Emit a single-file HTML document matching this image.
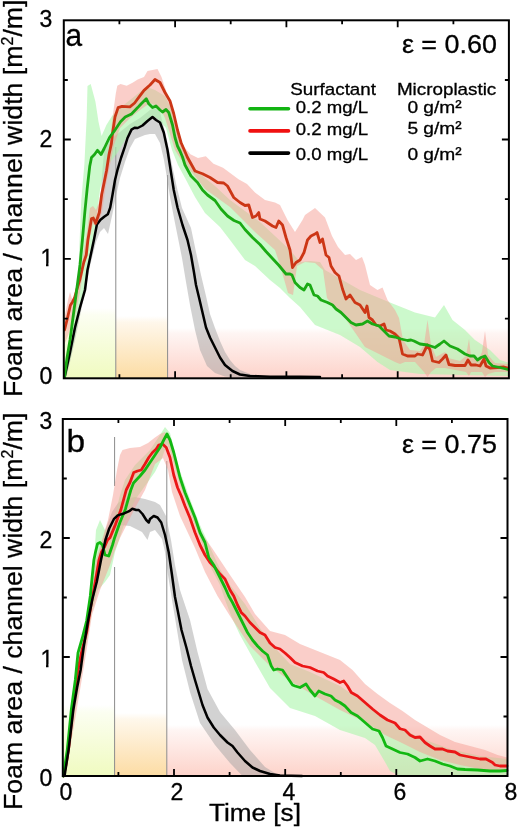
<!DOCTYPE html>
<html><head><meta charset="utf-8"><style>html,body{margin:0;padding:0;background:#fff;width:520px;height:829px;overflow:hidden}</style></head>
<body>
<svg width="520" height="829" viewBox="0 0 520 829" style="display:block;filter:blur(0.35px);font-family:'Liberation Sans',Arial,sans-serif">
<defs><linearGradient id="gyA" x1="0" y1="308" x2="0" y2="378.3" gradientUnits="userSpaceOnUse"><stop offset="0" stop-color="#f0fbc0" stop-opacity="0"/><stop offset="0.1" stop-color="#f0fbc0" stop-opacity="0.22"/><stop offset="1" stop-color="#f0fbc0" stop-opacity="1"/></linearGradient><linearGradient id="goA" x1="0" y1="316" x2="0" y2="378.3" gradientUnits="userSpaceOnUse"><stop offset="0" stop-color="#fcdca4" stop-opacity="0"/><stop offset="0.1" stop-color="#fcdca4" stop-opacity="0.22"/><stop offset="1" stop-color="#fcdca4" stop-opacity="1"/></linearGradient><linearGradient id="gpA" x1="0" y1="328" x2="0" y2="378.3" gradientUnits="userSpaceOnUse"><stop offset="0" stop-color="#fdd3ca" stop-opacity="0"/><stop offset="0.1" stop-color="#fdd3ca" stop-opacity="0.22"/><stop offset="1" stop-color="#fdd3ca" stop-opacity="1"/></linearGradient><linearGradient id="gyB" x1="0" y1="705" x2="0" y2="776" gradientUnits="userSpaceOnUse"><stop offset="0" stop-color="#f0fbc0" stop-opacity="0"/><stop offset="0.1" stop-color="#f0fbc0" stop-opacity="0.22"/><stop offset="1" stop-color="#f0fbc0" stop-opacity="1"/></linearGradient><linearGradient id="goB" x1="0" y1="713" x2="0" y2="776" gradientUnits="userSpaceOnUse"><stop offset="0" stop-color="#fcdca4" stop-opacity="0"/><stop offset="0.1" stop-color="#fcdca4" stop-opacity="0.22"/><stop offset="1" stop-color="#fcdca4" stop-opacity="1"/></linearGradient><linearGradient id="gpB" x1="0" y1="725" x2="0" y2="776" gradientUnits="userSpaceOnUse"><stop offset="0" stop-color="#fdd3ca" stop-opacity="0"/><stop offset="0.1" stop-color="#fdd3ca" stop-opacity="0.22"/><stop offset="1" stop-color="#fdd3ca" stop-opacity="1"/></linearGradient></defs>
<rect width="520" height="829" fill="#fff"/>
<!-- panel a -->
<rect x="63.8" y="308" width="52.0" height="70.30000000000001" fill="url(#gyA)"/><rect x="115.8" y="316" width="51.8" height="62.30000000000001" fill="url(#goA)"/><rect x="167.6" y="328" width="341.29999999999995" height="50.30000000000001" fill="url(#gpA)"/>
<path d="M115.8,147V378M167.6,175V378" stroke="#8c8c8c" stroke-width="1"/>
<polygon points="64.5,377 75,322 85,282 92,245 97,218 100,205 102,175 104,152 110,140 120,132 130,124 140,118 150,110 155,108 160,112 162,120 167,140 172,165 177,188 182,208 191,228 196,252 201,275 206,296 210,314 215,328 220,341 225,352 230,360 235,366 240,370 250,374 260,376 320,377 320,378 240,378 225,376.5 215,373 207,366 200,350 195,330 190,305 186,282 182,258 178,238 174,218 170,197 167,178 164,160 160,143 155,134 150,134 145,135 140,137 135,139 130,148 125,162 120,178 116,196 112,216 108,234 104,228 100,232 96,242 90,266 85,292 80,316 75,340 70,362 66,378" fill="#a0a0a0" fill-opacity="0.47" />
<polygon points="64.5,377 72,330 78,280 81.3,200 84.4,164 86.7,117 87.5,86 90.7,84 95.4,101.4 98.5,121.8 101.6,135.9 106.4,125 112,116 120,108 130,100 140,92 147,87 155,90 165,96 172,110 178,130 185,150 195,168 205,178 215,186 230,200 245,211 260,222 275,236 290,250 300,262 310,261 320,262 325,270 360,290 390,302.5 415,312.5 435,317.5 444,305 452.5,320 465,330 475,340 490,350 500,360 508,362.5 508,376 420,374 390,370 377.5,362 360,347 340,335 315,325 300,307 290,298 280,288 270,280 255,266 245,260 230,240 220,227 205,213 195,197 185,178 178,165 172,150 166,128 160,121 155,117 150,119 145,122 140,126 132,130 125,140 118,152 112,160 104.8,168 100,190 97,215 93,240 89,262 84,290 78,320 72,350 66,377.5" fill="#aaf5aa" fill-opacity="0.6" />
<polygon points="64.5,318 68,300 70,292 73,302 76,296 80,273 84,250 87,232 90,208 93,206 96,210 100,200 104,178 108,160 111,132.7 112.6,117 115.8,93.5 117.3,85.7 120.5,84 126.7,85.7 133,82.5 137.7,79.4 144,77 147.5,71 157.5,69 161.5,77 165.4,88.8 169.2,98.5 172.1,110 175,123.5 178.8,137 183.7,146.5 190.4,154.2 198,158 205.8,156.2 213.5,163.8 223,167.7 230.8,173.5 238.5,179.2 247,184 255,192.5 265,200 275,202.5 280,205 287.5,220 295,232 302.5,220 305,215 315,208 325,217.5 332,236 338,247 345,255 350,254 356,260 362,257 365,265 370,285 377.5,290 382.5,287.5 387.5,300 395,310 399,318 403,340 410,350 420,351 424,345 427.5,320 431,345 436,357 445,352 448,358 460,361 466,356 469,339 471,356 478,361 482,352 485,331 488,355 495,363 508,364 508,372 495,372 488,374 485,377 482,372 471,372 469,376 466,372 445,368 436,368 431,372 427.5,377 424,372 415,362 405,362 400,364 395,362 385,357 365,347 345,318 335,308 327,298 323,270 315,263 305,262 297,266 293,295 288,293 280,265 275,250 255,232 230,207 205,189 190,170 180,158 175,150 170,134 165,118 160,108 150,103 140,110 130,118 120,128 114,145 110,165 106,185 102,212 97,227 93,224 88,245 84,266 80,292 75,316 72,322 68,336 64.5,344" fill="#f59d93" fill-opacity="0.5" />
<polyline points="64.5,377.5 70,352.5 75,327.5 80,307.5 85,290 87.5,270 91.25,252.5 93.9,240 96.9,224.5 100.5,219.7 104.2,216.7 107.8,214.3 110.2,207.6 112.6,194.3 115,180 117.4,170.2 121,158 124.7,147.2 127.5,138 131.5,129.6 134.6,127.7 137.7,128 142.5,125.5 147.5,121 152.5,117 156,120 160,122.5 163.75,132.5 167.5,150 171,172.5 173.75,190 177.5,207.5 182.5,225 187.5,240 191,255 194,272.5 196,285 199,297.5 202.5,312.5 206,327.5 210,337.5 215,347.5 220,357.5 225,365 232.5,371 240,374.5 250,376 270,376.8 300,376.8 320,377" fill="none" stroke="#000" stroke-width="2.5" stroke-linejoin="round" stroke-linecap="round"/>
<polyline points="64.5,330 67.5,318 70.4,305.3 72.5,302 74.5,298 77,289 80,279 83.75,262.5 86.25,255 87.9,240 91.5,218.5 93.3,218 95.7,223.3 99.3,212.5 101.7,194.3 104.2,182.3 106.6,170.2 109,154.5 111.4,143.6 112.6,132.7 115,117 118.1,107.6 122,106.4 129.9,106.9 134.6,103 139.3,96.7 144,90.4 150,85 155,79.5 160,82.5 165,92.5 170,101 173.75,113.75 177.5,130 181,142.5 187.5,157.5 195,171 202.5,173.75 210,177.5 217.5,182.5 223.75,183 227.5,186 233.75,197.5 240,202.5 245,205.5 248.75,205 252.5,217.5 256,216 258.75,212.5 260,219 265,221 272.5,226 276,227.5 278.75,221 282.5,225 286,237.5 290,250 292.5,267.5 296,262.5 300,260 304,252.5 307.5,240 311,236 315,234 317,232.5 320,242.5 322.5,239 326,255 329,257.5 331,266 335,272.5 339,276 342.5,289 346,299 350,295 355,302.5 360,305 365,312.5 367,306 369,317.5 372.5,320 376,325 380,326 384,324 386,330 390,331 395,334 399,338 402.5,354 407.5,356 415,356 417.5,354 422.5,355 425,350 427.5,345 430,350 432.5,361 439,362.5 442.5,359 446,355 449,364.5 455,365.5 465,365.5 468,360 471,365 476,365 480,366 484,359 486,366 490,368 497.5,367.5 504,367 508,368" fill="none" stroke="#cc3616" stroke-width="2.8" stroke-linejoin="round" stroke-linecap="round"/>
<polyline points="64.5,377 67,358 70,340 75,302.5 80,265 82.4,240 84.8,212.5 87.2,188.3 89.7,166.6 91.5,157.5 94.5,154.5 97.5,150.3 101.1,154.5 104.2,148.5 109.5,137.5 114.2,131.2 120.5,121.8 125.2,117 131.5,113.9 137.7,107.6 141,104 144,101 146.25,98.75 148.75,103.75 152.5,107.5 156,106 160,110 162.5,112 166,109.5 168.75,112.5 172.5,125 175,137.5 177.5,146 180,151 182.5,157 185,165 191,176 197.5,182.5 202.5,190 207.5,195 215,200.5 221,209 227.5,216 234,220.5 240,223 245,229.5 252.5,237.5 260,244.5 266,251.5 272.5,258.5 279,265.5 286,274 290,274 292,275 295,282.5 300,287.5 304,290 307.5,284 310,285 314,295 317.5,296 321,300 327.5,302.5 332.5,305 336,309 341,312.5 346,317.5 351,322.5 356,325 362.5,324 367.5,321 372.5,324 379,326 384,331 389,336 395,337 401,339 407.5,340.5 411,340 414,341 420,344 427.5,345 435,347.5 440,344 444,341 450,346 457.5,349 465,354 470,356 474,356 477.5,360 481,357.5 485,356 489,362.5 492.5,366 500,367.5 508,369.5" fill="none" stroke="#1aaa14" stroke-width="2.8" stroke-linejoin="round" stroke-linecap="round"/>
<rect x="63.8" y="20.3" width="445.09999999999997" height="358.0" fill="none" stroke="#000" stroke-width="2"/>
<path d="M63.8,139.5h7M508.9,139.5h-7M63.8,258.9h7M508.9,258.9h-7M63.8,80h4M508.9,80h-4M63.8,199.2h4M508.9,199.2h-4M63.8,318.6h4M508.9,318.6h-4M175.1,378.3v-7M175.1,20.3v7M286.4,378.3v-7M286.4,20.3v7M397.7,378.3v-7M397.7,20.3v7M119.4,378.3v-4M119.4,20.3v4M230.7,378.3v-4M230.7,20.3v4M342.1,378.3v-4M342.1,20.3v4M453.4,378.3v-4M453.4,20.3v4" stroke="#000" stroke-width="1.8" fill="none"/>
<!-- panel b -->
<rect x="62.8" y="705" width="51.8" height="71" fill="url(#gyB)"/><rect x="114.6" y="713" width="52.20000000000002" height="63" fill="url(#goB)"/><rect x="166.8" y="725" width="340.7" height="51" fill="url(#gpB)"/>
<path d="M114.6,437V486M114.6,567V776M166.8,461V776" stroke="#8c8c8c" stroke-width="1"/>
<polygon points="63.5,776 72,712 80,665 88,620 94,580 100,550 106,528 112,512 118,503 125,499 135,497 145,499 155,502 160,505 166,516 171,540 175,565 180,590 190,620 197.5,652 207.5,689 220,712 235,730 250,750 265,767 278,775 300,776.5 300,777 242.5,776 230,763 215,745 200,723 190,692 182,660 177,630 172,600 168,575 165,552 162,539 155,530 150,532 147.5,540 142,532 130,526 120,525 112,534 105,548 98,572 90,610 82,660 72,725 66,770 63.5,776" fill="#a0a0a0" fill-opacity="0.47" />
<polygon points="63.5,776 70,715 75,675 82,640 87,615 91,585 94,560 96,530 100,520 105,530 110,530 115,515 120,495 125,480 135,465 150,450 160,435 165,427 170,433 175,452 180,471 190,499 200,525 210,547 220,569 230,585 245,604 260,628 275,648 290,664 310,672 340,686 365,703 390,722 420,738 450,749 480,756 507,759 507,776 400,776 390,771 385,762 375,745 365,738 340,730 315,716 290,708 270,688 255,662 240,635 232,618 225,600 220,585 212,570 205,552 200,538 190,512 180,485 175,467 170,450 167,444 162,458 155,472 145,486 135,500 125,522 115,552 110,575 105,582 98,590 92,612 85,652 75,712 68,760 63.5,776" fill="#aaf5aa" fill-opacity="0.6" />
<polygon points="63.5,776 70,730 78,682 86,630 92,585 96,560 102,540 108,520 113,495 117,470 120,455 122.5,450 130,448 140,447 148,443 155,437.5 160,434 165,432 170,442 173,453 177,468 182,484 190,505 195,518 200,530 205,538 212,548 220,560 230,575 245,597 255,614 270,631 285,635 300,644 315,650 340,660 352.5,670 365,684 377.5,694 390,703 402.5,711 415,720 427.5,727.5 440,735 455,742 470,746 485,750 497.5,755 507,757.5 507,772 485,770 460,765 440,760 420,752 400,742 385,735 365,722 340,710 315,696 290,681 270,666 250,646 230,616 217.5,596 205,572 195,548 180,516 172,492 168,470 163,458 155,464 145,490 135,508 128,522 120,538 115,550 110,565 100,590 92,615 85,660 75,720 68,760 63.5,776" fill="#f59d93" fill-opacity="0.5" />
<polyline points="63.5,776 66,765 68.5,749.6 72.5,712 75,690 77.9,670 82,650 86.6,632.5 91,605 95.3,581.7 99,560 101.5,552 104.5,547 107.5,540 110,537.7 115.4,524.6 120.8,510 126.2,490 130,482.5 133.75,472.5 137.5,471 141.25,470 145,464 148.75,457.5 152.5,452.5 156.25,449 158.75,445 162.5,444 166.25,447.5 170,457.5 173.75,475 177.5,487.5 181.25,496 185,506 190,518 195,532.5 200,545 205,555 210,562.5 215,567.5 220,574 225,579 230,590 233.75,596 237.5,605 241.25,612.5 245,616 250,622.5 255,627.5 260,632.5 265,635 270,643 275,647.5 280,649 285,653 290,657.5 295,662.5 302.5,666 310,667.5 317.5,671 323.75,672.5 327.5,676 333.75,679 340,682.5 343.75,681 347.5,686 351.25,692.5 357.5,696 365,702.5 372.5,709 380,715 387.5,720 395,723 400,728.75 405,730 410,735 415,737.5 420,737 425,742.5 430,746 435,749 442.5,749 447.5,751 455,752 460,755 465,756 472.5,757.5 480,759 486,759 492.5,762.5 495,765 500,766 507,766" fill="none" stroke="#eb1616" stroke-width="2.8" stroke-linejoin="round" stroke-linecap="round"/>
<polyline points="63.3,776 67.3,749.6 71.3,709.8 75.3,680 78,652.8 82.3,638 86.6,621 90.3,596 92.4,574.5 93.9,560 95.5,552 97.5,543.75 100,542.5 102.5,545 105,555 108.75,556 112.5,545 114.6,537.7 120,522.3 125.4,509.2 130.8,490 133.5,483 136.25,480 140,476 145,470 150,462.5 155,455 160,447.5 163.75,440 167,434 170,440 173.75,452.5 177.5,467.5 180,477.5 185,492.5 190,505 195,517.5 200,532.5 205,542.5 208.75,557.5 213.75,565 217.5,572.5 221.25,580 225,587.5 228.75,596 232.5,602.5 236.25,610 240,617.5 243.75,625 247.5,632.5 252.5,640 257.5,646 262.5,651 267.5,655 271.25,666 273.75,670 277.5,669 282.5,670 287.5,677.5 292.5,685 295,686 300,687.5 306,684 310,690 315,696 318.75,691 325,694 331,696 335,700 340,702.5 345,706 351,712.5 357.5,716 365,722.5 372.5,729 379,731 382.5,737.5 386,746 392.5,749 400,752.5 407.5,754 415,757.5 420,761 427.5,759 435,761 442.5,764 450,766 457.5,769 465,769.5 477.5,770 490,771 500,771 507,770.5" fill="none" stroke="#12b812" stroke-width="2.8" stroke-linejoin="round" stroke-linecap="round"/>
<polyline points="63.5,776 64.7,775 68.6,749.6 73.3,709.8 77,688 80.6,670 83.7,647 88,621 92.4,599 96.8,581.7 101,560 105.4,540 109.2,528.5 113.8,519.2 117.7,515.4 123,513.8 129.2,511.2 132.3,508.8 136.2,510 138.75,510 142.5,514 146.25,520 148.75,522.5 150,519 153.75,516 157.5,517.5 161.25,522.5 165,535 168.75,552.5 172,575 175,597 178,612 181.5,630 186.5,648 191,666 195,680 198.75,692.5 202.5,705 207.5,717.5 213.75,727.5 220,735 227.5,742.5 232.5,746 237.5,752.5 245,761 252.5,767.5 260,771 270,774 280,775.5 302,776" fill="none" stroke="#000" stroke-width="2.5" stroke-linejoin="round" stroke-linecap="round"/>
<rect x="62.8" y="419" width="444.7" height="357" fill="none" stroke="#000" stroke-width="2"/>
<path d="M62.8,538h7M507.5,538h-7M62.8,657h7M507.5,657h-7M62.8,478.5h4M507.5,478.5h-4M62.8,597.5h4M507.5,597.5h-4M62.8,716.5h4M507.5,716.5h-4M174,776v-7M174,419v7M285.2,776v-7M285.2,419v7M396.3,776v-7M396.3,419v7M118.4,776v-4M118.4,419v4M229.6,776v-4M229.6,419v4M340.8,776v-4M340.8,419v4M451.9,776v-4M451.9,419v4" stroke="#000" stroke-width="1.8" fill="none"/>
<!-- legend -->
<line x1="250" y1="108.7" x2="288.5" y2="108.7" stroke="#12b412" stroke-width="3.6" stroke-linecap="round"/>
<line x1="250" y1="130.9" x2="288.5" y2="130.9" stroke="#f01010" stroke-width="3.6" stroke-linecap="round"/>
<line x1="250" y1="153.1" x2="288.5" y2="153.1" stroke="#000" stroke-width="3.6" stroke-linecap="round"/>

<g fill="#000" stroke="#000" stroke-width="0.3"><text x="290.3" y="94.6" font-size="17" textLength="85.7" lengthAdjust="spacingAndGlyphs">Surfactant</text>
<text x="396.9" y="95" font-size="17" textLength="99.4" lengthAdjust="spacingAndGlyphs">Microplastic</text>
<text x="295.7" y="113" font-size="17" textLength="72.3" lengthAdjust="spacingAndGlyphs">0.2 mg/L</text>
<text x="295.7" y="135.2" font-size="17" textLength="72.3" lengthAdjust="spacingAndGlyphs">0.2 mg/L</text>
<text x="295.7" y="159.6" font-size="17" textLength="72.3" lengthAdjust="spacingAndGlyphs">0.0 mg/L</text>
<text x="407.4" y="113.2" font-size="17" textLength="54.3" lengthAdjust="spacingAndGlyphs">0 g/m²</text>
<text x="407.4" y="134.4" font-size="17" textLength="54.3" lengthAdjust="spacingAndGlyphs">5 g/m²</text>
<text x="407.4" y="159.6" font-size="17" textLength="54.3" lengthAdjust="spacingAndGlyphs">0 g/m²</text>
<text x="401.9" y="52.5" font-size="25" textLength="95" lengthAdjust="spacingAndGlyphs">ε = 0.60</text>
<text x="401.9" y="453.3" font-size="25" textLength="95" lengthAdjust="spacingAndGlyphs">ε = 0.75</text>
<text x="65.6" y="46" font-size="32" textLength="16.6" lengthAdjust="spacingAndGlyphs">a</text>
<text x="66.5" y="452" font-size="32" textLength="18.6" lengthAdjust="spacingAndGlyphs">b</text>
<text x="46" y="27.3" font-size="23" text-anchor="middle">3</text>
<text x="46" y="147" font-size="23" text-anchor="middle">2</text>
<text x="47" y="266" font-size="23" text-anchor="middle">1</text>
<text x="46" y="384" font-size="23" text-anchor="middle">0</text>
<text x="46" y="429" font-size="23" text-anchor="middle">3</text>
<text x="46" y="548" font-size="23" text-anchor="middle">2</text>
<text x="47" y="667" font-size="23" text-anchor="middle">1</text>
<text x="46" y="786" font-size="23" text-anchor="middle">0</text>
<text x="66" y="800" font-size="23" text-anchor="middle">0</text>
<text x="177" y="800" font-size="23" text-anchor="middle">2</text>
<text x="289" y="800" font-size="23" text-anchor="middle">4</text>
<text x="400" y="800" font-size="23" text-anchor="middle">6</text>
<text x="511" y="800" font-size="23" text-anchor="middle">8</text>
<text x="208.9" y="820.5" font-size="23" textLength="92.1" lengthAdjust="spacingAndGlyphs">Time [s]</text>
<text transform="translate(22,198.3) rotate(-90)" font-size="26.7" text-anchor="middle">Foam area / channel width [m<tspan font-size="16" dy="-9">2</tspan><tspan dy="9">/m]</tspan></text>
<text transform="translate(22,611.3) rotate(-90)" font-size="26.7" text-anchor="middle">Foam area / channel width [m<tspan font-size="16" dy="-9">2</tspan><tspan dy="9">/m]</tspan></text></g>
<rect x="40" y="263.5" width="6.0" height="4" fill="#fff"/><rect x="48.5" y="263.5" width="5.5" height="4" fill="#fff"/><rect x="40" y="664.5" width="6.0" height="4" fill="#fff"/><rect x="48.5" y="664.5" width="5.5" height="4" fill="#fff"/>
</svg>
</body></html>
